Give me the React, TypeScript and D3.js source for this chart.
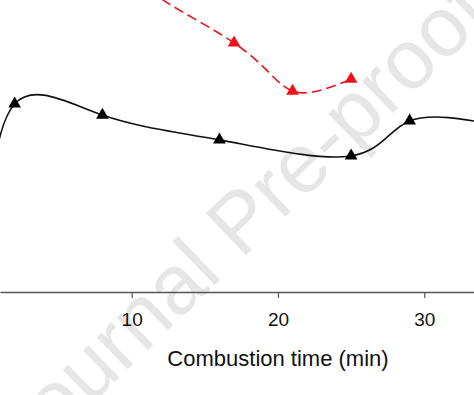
import React, { useEffect, useRef } from "react";
import * as d3 from "d3";

// combustion time (min) and the two measured series (values on an arbitrary scale, axis cropped)
const blackTime = [0, 2, 8, 16, 25, 29, 35];
const blackValue = [14, 64.4, 60.6, 52.1, 46.6, 58.6, 57.2];
const redTime = [0, 2, 8, 17, 21, 25];
const redValue = [52, 138, 115.4, 85.3, 68.8, 72.9];
const xTicks = [10, 20, 30];
const xLabel = "Combustion time (min)";
const watermark = "Journal Pre-proof";

const W = 474;
const H = 395;

export default function App() {
  const ref = useRef<SVGSVGElement>(null);

  useEffect(() => {
    const svg = d3.select(ref.current);
    svg.selectAll("*").remove();

    const x = d3.scaleLinear().domain([1, 33.4]).range([0, W]);
    const y = d3.scaleLinear().domain([0, 100]).range([292, 0]);

    // watermark
    svg
      .append("text")
      .attr("transform", "translate(244,226) rotate(-44)")
      .attr("text-anchor", "middle")
      .attr("dominant-baseline", "middle")
      .style("font-family", "Liberation Sans, Arial, sans-serif")
      .style("font-size", "84px")
      .attr("fill", "#e6e6e6")
      .text(watermark);

    // x axis
    const axis = svg.append("g").attr("transform", "translate(0,292)");
    axis
      .call(d3.axisBottom(x).tickValues(xTicks).tickSize(6).tickSizeOuter(0).tickPadding(15))
      .call((g) => g.select(".domain").attr("stroke", "#555").attr("stroke-width", 1.6))
      .call((g) => g.selectAll(".tick line").attr("stroke", "#555").attr("stroke-width", 1.2))
      .call((g) =>
        g
          .selectAll(".tick text")
          .attr("fill", "#111")
          .style("font-family", "Liberation Sans, Arial, sans-serif")
          .style("font-size", "19px")
      );

    svg
      .append("text")
      .attr("x", 278)
      .attr("y", 366)
      .attr("text-anchor", "middle")
      .style("font-family", "Liberation Sans, Arial, sans-serif")
      .style("font-size", "22px")
      .attr("fill", "#111")
      .text(xLabel);

    const black = blackTime.map((t, i) => [x(t), y(blackValue[i])] as [number, number]);
    const red = redTime.map((t, i) => [x(t), y(redValue[i])] as [number, number]);
    const path = d3.line().curve(d3.curveNatural);

    svg
      .append("path")
      .attr("d", path(red))
      .attr("fill", "none")
      .attr("stroke", "#f01018")
      .attr("stroke-width", 1.6)
      .attr("stroke-dasharray", "10,5");

    svg
      .append("path")
      .attr("d", path(black))
      .attr("fill", "none")
      .attr("stroke", "#111")
      .attr("stroke-width", 1.6);

    const tri = d3.symbol().type(d3.symbolTriangle).size(70);

    svg
      .selectAll(".red-pt")
      .data(red)
      .enter()
      .append("path")
      .attr("transform", (d) => `translate(${d[0]},${d[1]})`)
      .attr("d", tri)
      .attr("fill", "#f01018");

    svg
      .selectAll(".black-pt")
      .data(black)
      .enter()
      .append("path")
      .attr("transform", (d) => `translate(${d[0]},${d[1]})`)
      .attr("d", tri)
      .attr("fill", "#000");
  }, []);

  return (
    <svg
      ref={ref}
      width={W}
      height={H}
      style={{ position: "absolute", left: 0, top: 0, background: "#fff" }}
    />
  );
}
